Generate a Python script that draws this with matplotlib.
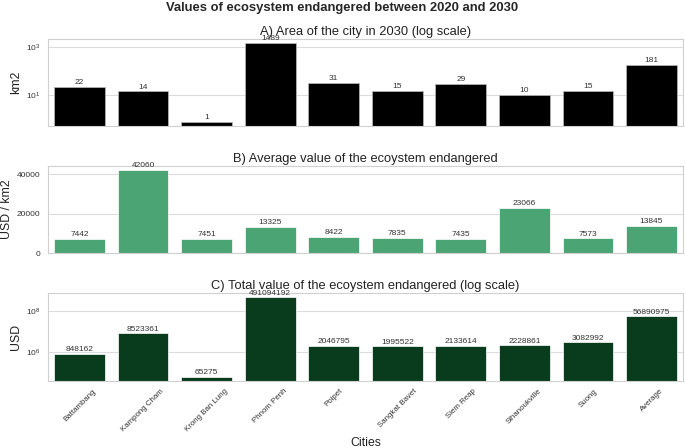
import matplotlib
matplotlib.use("Agg")
import matplotlib.pyplot as plt
import matplotlib.ticker as mticker
import seaborn as sns
import numpy as np

cities = ["Battambang", "Kampong Cham", "Krong Ban Lung", "Phnom Penh", "Poipet",
          "Sangkat Bavet", "Siem Reap", "Sihanoukville", "Suong", "Average"]
area_km2 = [22, 14, 0.75, 1489, 31, 15, 29, 10, 15, 181]
avg_value = [7442, 42060, 7451, 13325, 8422, 7835, 7435, 23066, 7573, 13845]
total_value = [848162, 8523361, 65275, 491094192, 2046795, 1995522, 2133614,
               2228861, 3082992, 56890975]

titles = ["A) Area of the city in 2030 (log scale)",
          "B) Average value of the ecoystem endangered",
          "C) Total value of the ecoystem endangered (log scale)"]
ylabels = ["km2", "USD / km2", "USD"]
y_ticks = [[1e1, 1e3], [0, 20000, 40000], [1e6, 1e8]]
is_log = [True, False, True]
colors = ["#000000", "#4ba473", "#093b1d"]

sns.set_style("whitegrid")
plt.rcParams['font.family'] = ['Liberation Sans', 'DejaVu Sans']
plt.rcParams['axes.edgecolor'] = '#d0d0d0'
plt.rcParams['grid.color'] = '#dcdcdc'

fig = plt.figure(figsize=(6.85, 4.48), dpi=100)
W, H = 685.0, 448.0
boxes = [(38.7, 126.0), (166.0, 253.3), (293.3, 380.7)]
left, right = 47.7, 683.3

data = [area_km2, avg_value, total_value]
x = np.arange(len(cities))
for i, (top, bot) in enumerate(boxes):
    ax = fig.add_axes([left / W, 1 - bot / H, (right - left) / W, (bot - top) / H])
    bars = ax.bar(x, data[i], width=0.8, color=colors[i],
                  edgecolor='#bbbbbb' if i == 0 else 'white', linewidth=0.5)
    if is_log[i]:
        ax.set_yscale('log')
        ax.yaxis.set_minor_locator(mticker.NullLocator())
    ax.yaxis.set_major_locator(mticker.FixedLocator(y_ticks[i]))
    ax.set_xlim(-0.5, len(cities) - 0.5)
    ax.grid(axis='x', visible=False)
    ax.grid(axis='y', linewidth=0.8)
    ax.set_axisbelow(True)
    ax.bar_label(bars, fmt='%.0f', fontsize=6, color='#333333', padding=0.5)
    ax.set_title(titles[i], fontsize=9.3, pad=3, color='#222222')
    ax.set_ylabel(ylabels[i], fontsize=8.8, color='#222222', labelpad=2.5)
    ax.tick_params(axis='y', labelsize=6, colors='#333333', pad=2)
    for s in ax.spines.values():
        s.set_linewidth(0.8)
    ax.set_xticks(x)
    if i < 2:
        ax.set_xticklabels([])
        ax.tick_params(axis='x', length=0)
    else:
        ax.set_xticklabels(cities, rotation=45, fontsize=5.7, color='#333333')
        ax.tick_params(axis='x', length=0, pad=5)
        ax.set_xlabel("Cities", fontsize=8.8, color='#222222', labelpad=3)

fig.suptitle("Values of ecosystem endangered between 2020 and 2030", fontsize=9.4,
             fontweight='bold', y=1 - 2.5 / H, va='top')

fig.savefig("out.png", dpi=100)
